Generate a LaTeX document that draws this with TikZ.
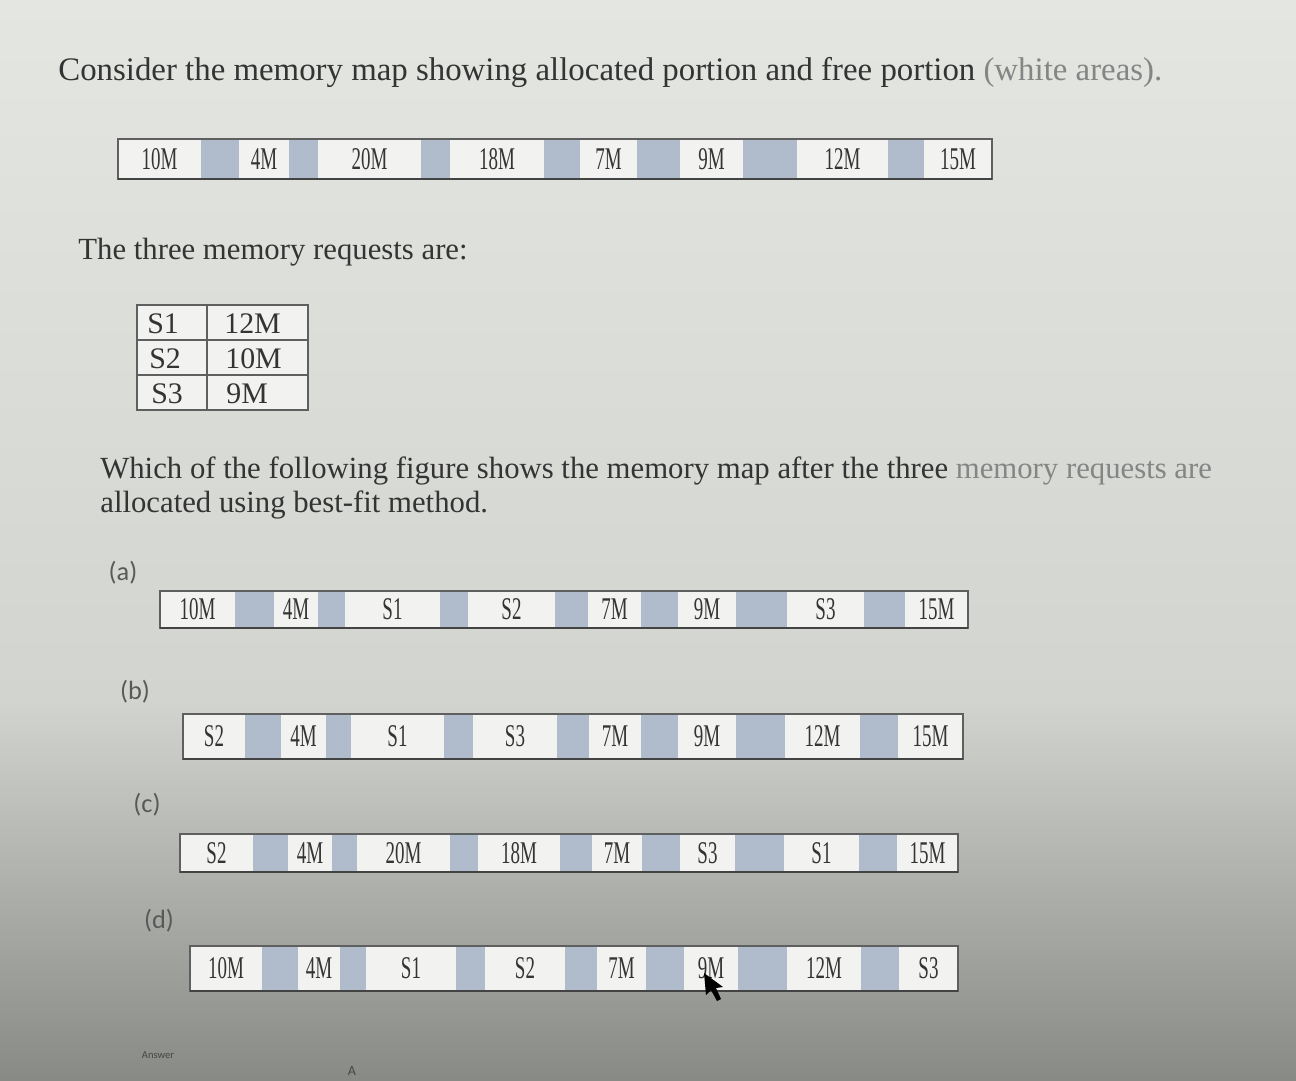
\documentclass[tikz,border=0pt]{standalone}
\usepackage{fontspec}
\setmainfont{Liberation Serif}
\newfontfamily\labfont{Carlito}
\usepackage{graphicx}
\definecolor{alloc}{RGB}{176,187,204}
\definecolor{freec}{RGB}{242,243,241}
\definecolor{ink}{RGB}{52,52,52}
\definecolor{edge}{RGB}{95,95,95}
\definecolor{bgtop}{RGB}{228,230,226}
\definecolor{bgmid}{RGB}{210,212,208}
\definecolor{bgbot}{RGB}{136,138,134}
\newcommand\cnd[1]{\scalebox{0.6}[1]{#1}}
\newcommand\membar[6]{%
  \fill[alloc] (#2,#4) rectangle (#3,#5);
  \foreach \a/\b/\t [count=\i] in {#6} {
    \fill[freec] (\a,#4) rectangle (\b,#5);
    \node[seg] (#1-\i) at ({(\a+\b)/2},{(#4+#5)/2}) {\cnd{\t}};
  }
  \draw[edge, line width=0.9pt] (#2,#4) rectangle (#3,#5);
  \draw[edge!70!black, line width=1.6pt] (#2,#5) -- (#3,#5);
}
\begin{document}
\begin{tikzpicture}[x=0.02cm,y=-0.02cm,
  txt/.style={anchor=base west, text=ink, font=\fontsize{17.5}{21}\selectfont, inner sep=0},
  seg/.style={text=ink, font=\fontsize{18}{18}\selectfont, inner sep=0},
  cell/.style={anchor=base west, text=ink, font=\fontsize{17}{17}\selectfont, inner sep=0},
  opt/.style={text=gray!70!black, font=\labfont\fontsize{15}{15}\selectfont, inner sep=0}]
\useasboundingbox (0,0) rectangle (1296,1080);
\shade[top color=bgtop, bottom color=bgmid] (0,0) rectangle (1296,700);
\shade[top color=bgmid, bottom color=bgbot] (0,700) rectangle (1296,1080);

\node[txt, font=\fontsize{18.7}{21}\selectfont] (title) at (58,80) {Consider the memory map showing allocated portion and free portion \textcolor{ink!60}{(white areas).}};

\membar{top}{118}{992}{139}{179}{118/201/10M, 239/289/4M, 318/421/20M, 450/544/18M, 580/637/7M, 680/743/9M, 797/888/12M, 924/992/15M}

\node[txt] (req) at (78,259) {The three memory requests are:};

\fill[freec] (137,305) rectangle (308,410);
\draw[edge, line width=1pt] (137,305) rectangle (308,410);
\draw[edge, line width=1pt] (207,305) -- (207,410) (137,340) -- (308,340) (137,375) -- (308,375);
\node[cell] (s1) at (147,333) {S1};
\node[cell] (m12) at (224,333) {12M};
\node[cell] (s2) at (149,368) {S2};
\node[cell] (m10) at (225,368) {10M};
\node[cell] (s3) at (151,403) {S3};
\node[cell] (m9) at (226,403) {9M};

\node[txt] (q1) at (100,478) {Which of the following figure shows the memory map after the three \textcolor{ink!60}{memory requests are}};
\node[txt] (q2) at (100,512) {allocated using best-fit method.};

\node[opt] (la) at (123,573) {(a)};
\membar{a}{160}{968}{591}{628}{160/235/10M, 274/318/4M, 345/440/S1, 468/555/S2, 588/641/7M, 678/736/9M, 787/864/S3, 905/968/15M}

\node[opt] (lb) at (135,692) {(b)};
\membar{b}{183}{963}{714}{759}{183/245/S2, 281/326/4M, 351/444/S1, 473/557/S3, 589/641/7M, 678/736/9M, 785/860/12M, 898/963/15M}

\node[opt] (lc) at (147,805) {(c)};
\membar{c}{180}{958}{834}{872}{180/253/S2, 288/332/4M, 357/450/20M, 478/560/18M, 592/642/7M, 680/735/S3, 784/859/S1, 897/958/15M}

\node[opt] (ld) at (159,921) {(d)};
\membar{d}{190}{958}{946}{991}{190/262/10M, 298/340/4M, 366/456/S1, 485/565/S2, 597/646/7M, 684/738/9M, 787/861/12M, 899/958/S3}

% mouse pointer
\fill[black] (704,973) -- (706,995) -- (711,990) -- (717,1001) -- (721,999) -- (716,988) -- (723,987) -- cycle;

\node[text=gray!55!black, font=\labfont\fontsize{6}{6}\selectfont, inner sep=0] (ans) at (158,1055) {Answer};
\node[text=gray!55!black, font=\labfont\fontsize{8}{8}\selectfont, inner sep=0] (ansA) at (352,1071) {A};
\end{tikzpicture}
\end{document}
